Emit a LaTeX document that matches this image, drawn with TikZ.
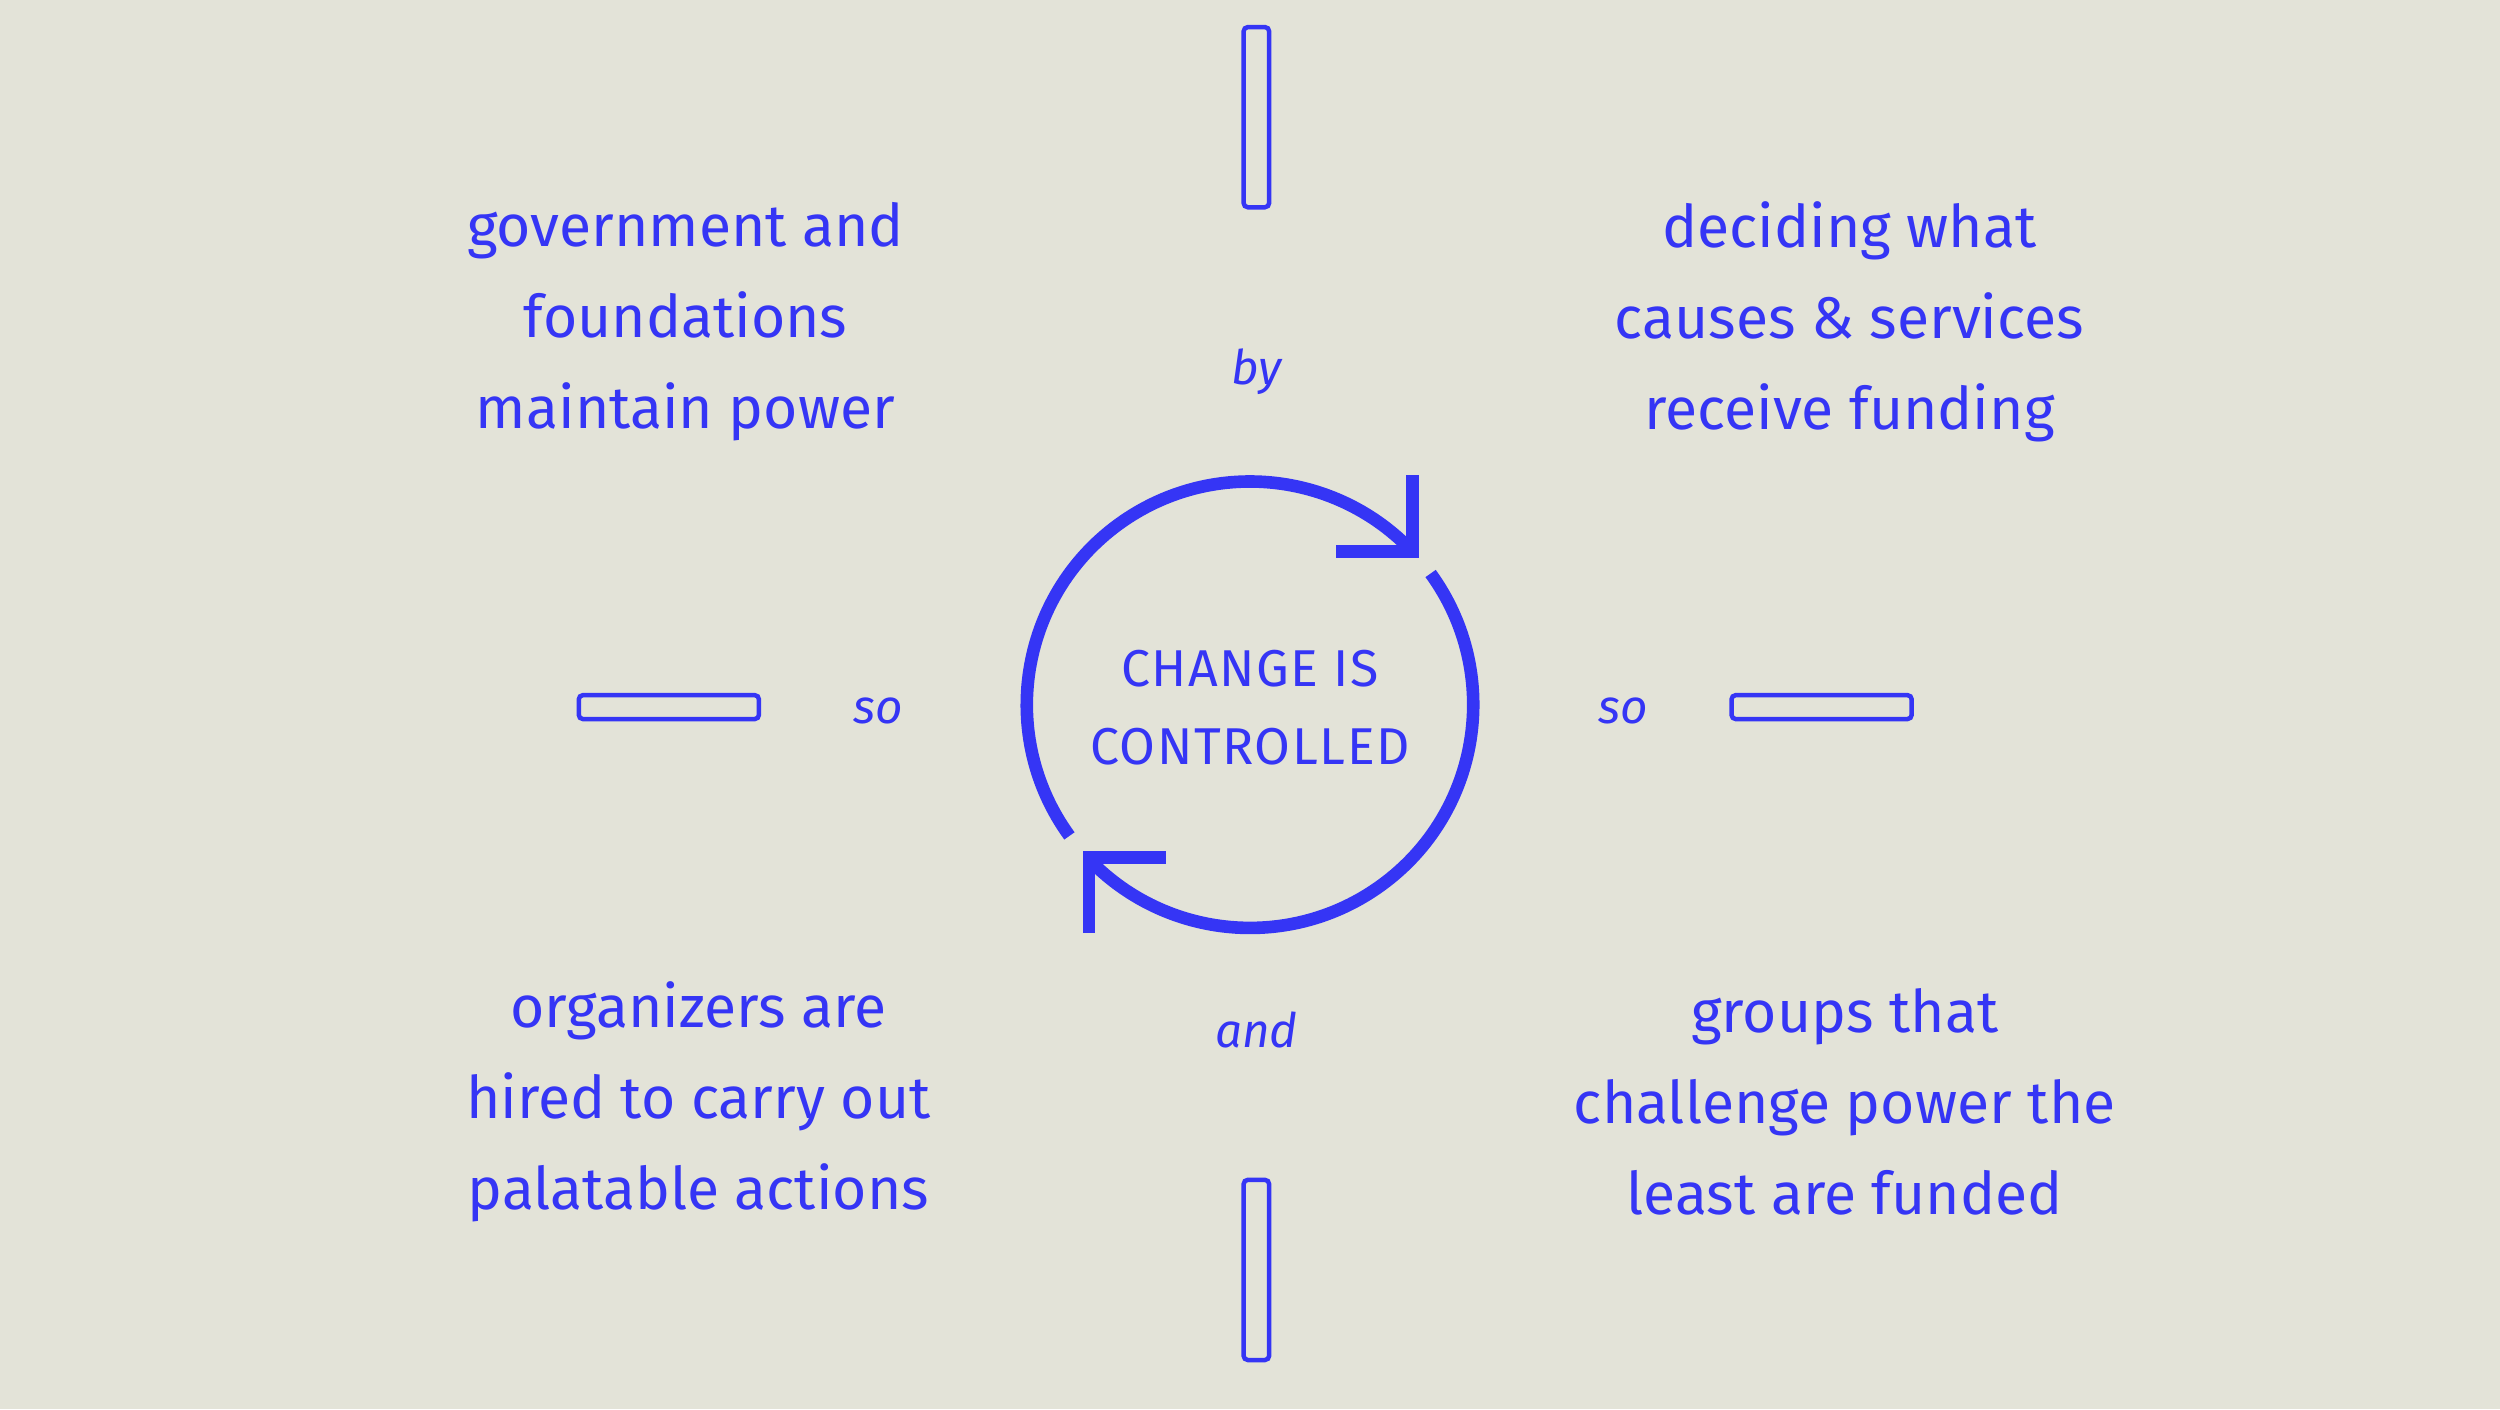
\documentclass[tikz,border=0pt]{standalone}
\usepackage{fontspec}
\setmainfont{Fira Sans}
\definecolor{bg}{HTML}{E3E3D8}
\definecolor{bl}{HTML}{3535F5}
\begin{document}
\begin{tikzpicture}[x=0.02cm,y=-0.02cm,
  txt/.style={text=bl,align=center,font=\fontsize{21}{32.5}\selectfont},
  conj/.style={text=bl,font=\fontsize{17}{20}\selectfont\itshape},
  bar/.style={draw=bl,line width=1.6pt,rounded corners=1.5pt},
  ring/.style={draw=bl,line width=4.5pt},
  tip/.style={draw=bl,line width=4.5pt}]
\fill[bg] (0,0) rectangle (1568,884);
\useasboundingbox (0,0) rectangle (1568,884);
\draw[bar] (780,17) rectangle (796,130);
\draw[bar] (780,740) rectangle (796,853);
\draw[bar] (363,436) rectangle (476,451);
\draw[bar] (1086,436) rectangle (1199,451);
\coordinate (c) at (784,442);
\draw[ring] (c) ++(144:140) arc[start angle=144,end angle=317,radius=140];
\draw[ring] (c) ++(-36:140) arc[start angle=-36,end angle=136,radius=140];
\draw[tip] (886,298) -- (886,346) -- (838,346);
\draw[tip] (683,585) -- (683,538) -- (731,538);
\node[text=bl,align=center,font=\fontsize{18.5}{28}\selectfont] (center) at (784,444) {\addfontfeature{LetterSpace=3}CHANGE IS\\\addfontfeature{LetterSpace=3}CONTROLLED};
\node[txt] (tl) at (430,202) {government and\\foundations\\maintain power};
\node[txt] (tr) at (1160,202) {deciding what\\causes \& services\\receive funding};
\node[txt] (bl) at (438,691) {organizers are\\hired to carry out\\palatable actions};
\node[txt] (br) at (1157,691) {groups that\\challenge power the\\least are funded};
\node[conj] (by) at (788,233) {by};
\node[conj] (so1) at (551,446) {so};
\node[conj] (so2) at (1018,446) {so};
\node[conj] (and) at (788,646) {and};
\end{tikzpicture}
\end{document}
